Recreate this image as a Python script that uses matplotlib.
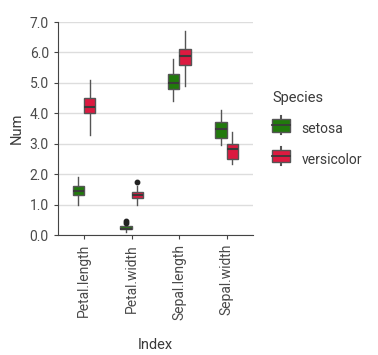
import matplotlib.pyplot as plt
import matplotlib.patches as mpatches
import matplotlib.lines as mlines
from matplotlib.legend_handler import HandlerBase

plt.rcParams['font.family'] = ['Roboto', 'DejaVu Sans']

# Data (box plot statistics)
indexes = ['Petal.length', 'Petal.width', 'Sepal.length', 'Sepal.width']
species = ['setosa', 'versicolor']
colors = {'setosa': '#217a0c', 'versicolor': '#dc1a40'}

# per species: whisker low, q1, median, q3, whisker high, outliers
setosa_low = [1.0, 0.1, 4.4, 2.95]
setosa_q1 = [1.3, 0.2, 4.8, 3.2]
setosa_med = [1.45, 0.2, 5.0, 3.5]
setosa_q3 = [1.6, 0.3, 5.3, 3.7]
setosa_high = [1.9, 0.4, 5.8, 4.1]
setosa_out = [[], [0.46, 0.4], [], []]

versi_low = [3.3, 1.0, 4.9, 2.35]
versi_q1 = [4.0, 1.2, 5.6, 2.5]
versi_med = [4.22, 1.33, 5.88, 2.82]
versi_q3 = [4.5, 1.42, 6.1, 3.0]
versi_high = [5.1, 1.6, 6.7, 3.4]
versi_out = [[], [1.75], [], []]

fig = plt.figure(figsize=(3.78, 3.55), dpi=100)
ax = fig.add_axes([0.153, 0.338, 0.516, 0.6])

def stats(low, q1, med, q3, high, out):
    return [dict(whislo=a, q1=b, med=c, q3=d, whishi=e, fliers=f)
            for a, b, c, d, e, f in zip(low, q1, med, q3, high, out)]

groups = {
    'setosa': stats(setosa_low, setosa_q1, setosa_med, setosa_q3, setosa_high, setosa_out),
    'versicolor': stats(versi_low, versi_q1, versi_med, versi_q3, versi_high, versi_out),
}

edge = '#3a3a3a'
width = 0.24
for k, sp in enumerate(species):
    pos = [i + (k - 0.5) * width for i in range(len(indexes))]
    ax.bxp(groups[sp], positions=pos, widths=width, patch_artist=True,
           showcaps=False,
           boxprops=dict(facecolor=colors[sp], edgecolor='#555555', linewidth=1.0),
           medianprops=dict(color=edge, linewidth=1.5),
           whiskerprops=dict(color='#555555', linewidth=1.0),
           flierprops=dict(marker='o', markersize=3.2, markerfacecolor='#222222',
                           markeredgecolor='#222222'))

ax.set_xlim(-0.55, len(indexes) - 0.45)
ax.set_ylim(0, 7)
ax.set_yticks(range(0, 8))
ax.set_yticklabels([f'{v:.1f}' for v in range(0, 8)])
ax.set_xticks(range(len(indexes)))
ax.set_xticklabels(indexes, rotation=90)
ax.yaxis.grid(True, color='#dddddd', linewidth=1.0)
ax.set_axisbelow(True)
for s in ['top', 'right']:
    ax.spines[s].set_visible(False)
for s in ['left', 'bottom']:
    ax.spines[s].set_color('#444444')
ax.tick_params(axis='both', colors='#444444', labelcolor='#4a4a4a', labelsize=10, length=3)
ax.set_xlabel('Index', fontsize=10.5, color='#3a3a3a', labelpad=13)
ax.set_ylabel('Num', fontsize=10.5, color='#3a3a3a', labelpad=4)


class BoxHandler(HandlerBase):
    def create_artists(self, legend, orig, xd, yd, w, h, fontsize, trans):
        c = orig.get_facecolor()
        r = mpatches.Rectangle((xd, yd), w, h, facecolor=c, edgecolor='#555555',
                               linewidth=1.0, transform=trans)
        m = mlines.Line2D([xd, xd + w], [yd + h / 2, yd + h / 2], color=edge,
                          linewidth=1.3, transform=trans)
        v1 = mlines.Line2D([xd + w / 2] * 2, [yd - 2, yd], color='#555555', transform=trans)
        v2 = mlines.Line2D([xd + w / 2] * 2, [yd + h, yd + h + 2], color='#555555', transform=trans)
        return [v1, v2, r, m]


handles = [mpatches.Patch(facecolor=colors[sp]) for sp in species]
leg = fig.legend(handles, species, title='Species', loc='upper left',
                 bbox_to_anchor=(0.695, 0.77), frameon=False, fontsize=10,
                 title_fontsize=10.5, handler_map={mpatches.Patch: BoxHandler()},
                 handlelength=1.3, handleheight=1.0, labelspacing=1.2,
                 handletextpad=0.8, alignment='left', borderpad=0.2)
for t in leg.get_texts():
    t.set_color('#3a3a3a')
leg.get_title().set_color('#3a3a3a')

plt.savefig('out.png', dpi=100)
